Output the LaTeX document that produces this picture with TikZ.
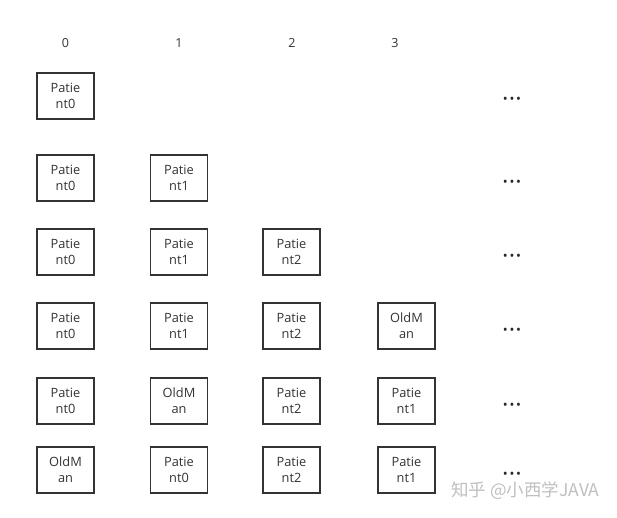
\documentclass[tikz,border=0pt]{standalone}
\usepackage{fontspec}
\setmainfont{Open Sans}
\newfontfamily\cjk{Noto Sans CJK SC}
\tikzset{
  cell/.style={draw=black!80,line width=1.8pt,minimum width=57pt,minimum height=46pt,
    inner sep=0pt,align=center,text=black!80,font=\fontsize{12.8}{16}\selectfont},
  idx/.style={text=black!80,font=\fontsize{12.5}{14}\selectfont},
  more/.style={text=black!85,font=\fontsize{13}{14}\selectfont}
}
\begin{document}
\begin{tikzpicture}[x=1pt,y=-1pt]
    \useasboundingbox (0,0) rectangle (617,518);
    % column numbers
    \node[idx] (h0) at (65.5,43) {0};
    \node[idx] (h1) at (179,43) {1};
    \node[idx] (h2) at (292,43) {2};
    \node[idx] (h3) at (395,43) {3};
    % row a
    \node[cell] (a0) at (65.5,96) {Patie\\nt0};
    \node[more] (am) at (512,100) {•\kern1.8pt•\kern1.8pt•};
    % row b
    \node[cell] (b0) at (65.5,178) {Patie\\nt0};
    \node[cell] (b1) at (179,178) {Patie\\nt1};
    \node[more] (bm) at (512,183) {•\kern1.8pt•\kern1.8pt•};
    % row c
    \node[cell] (c0) at (65.5,252) {Patie\\nt0};
    \node[cell] (c1) at (179,252) {Patie\\nt1};
    \node[cell] (c2) at (291.5,252) {Patie\\nt2};
    \node[more] (cm) at (512,257) {•\kern1.8pt•\kern1.8pt•};
    % row d
    \node[cell] (d0) at (65.5,326) {Patie\\nt0};
    \node[cell] (d1) at (179,326) {Patie\\nt1};
    \node[cell] (d2) at (291.5,326) {Patie\\nt2};
    \node[cell] (d3) at (406.5,326) {OldM\\an};
    \node[more] (dm) at (512,331) {•\kern1.8pt•\kern1.8pt•};
    % row e
    \node[cell] (e0) at (65.5,401) {Patie\\nt0};
    \node[cell] (e1) at (179,401) {OldM\\an};
    \node[cell] (e2) at (291.5,401) {Patie\\nt2};
    \node[cell] (e3) at (406.5,401) {Patie\\nt1};
    \node[more] (em) at (512,406) {•\kern1.8pt•\kern1.8pt•};
    % row f
    \node[cell] (f0) at (65.5,470) {OldM\\an};
    \node[cell] (f1) at (179,470) {Patie\\nt0};
    \node[cell] (f2) at (291.5,470) {Patie\\nt2};
    \node[cell] (f3) at (406.5,470) {Patie\\nt1};
    \node[more] (fm) at (512,475) {•\kern1.8pt•\kern1.8pt•};
    \node[anchor=east,text=black!25,font=\cjk\fontsize{17.5}{19}\selectfont] (wm) at (603,491) {知乎 @小西学JAVA};
\end{tikzpicture}
\end{document}
